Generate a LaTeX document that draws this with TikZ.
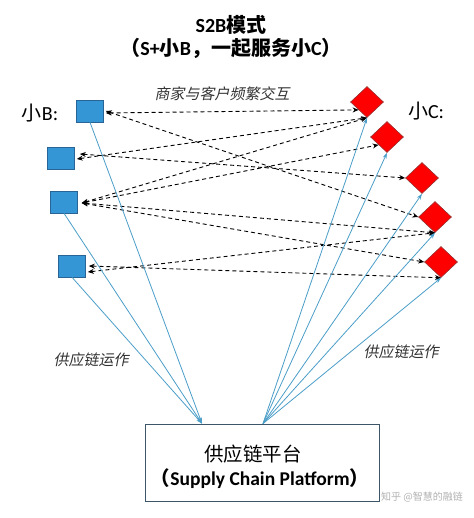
\documentclass[tikz,border=0pt]{standalone}
\usepackage{fontspec}
\newfontfamily\cjk{Noto Sans CJK SC}
\newfontfamily\cjkit{Noto Sans CJK SC}[FakeSlant=0.2]
\newfontfamily\lat{Carlito}
\usetikzlibrary{arrows.meta,shapes.geometric}
\definecolor{sqblue}{RGB}{52,150,212}
\definecolor{sqedge}{RGB}{40,100,150}
\definecolor{lnblue}{RGB}{75,158,200}
\definecolor{dmedge}{RGB}{150,50,50}
\definecolor{boxedge}{RGB}{60,85,105}
\begin{document}
\begin{tikzpicture}[x=1pt,y=-1pt,
  bsq/.style={draw=sqedge, fill=sqblue, line width=0.6pt, minimum width=27pt, minimum height=22pt, inner sep=0pt},
  rdm/.style={diamond, draw=dmedge, fill=red, line width=0.6pt, minimum width=33pt, minimum height=31pt, inner sep=0pt},
  dar/.style={black, line width=0.9pt, dash pattern=on 4pt off 3pt, {Stealth[length=6pt,width=5pt]}-{Stealth[length=6pt,width=5pt]}},
  bar/.style={lnblue, line width=0.8pt, -{Stealth[length=6pt,width=4pt]}},
  lab/.style={inner sep=0pt, text=black!80, font=\cjkit\fontsize{15}{18}\selectfont}
]
\useasboundingbox (0,0) rectangle (473,518);
\fill[white] (0,0) rectangle (473,518);

% title
\node[inner sep=0pt] (T1) at (231,25) {\fontsize{20}{24}\selectfont\bfseries{\lat S2B}{\cjk 模式}};
\node[inner sep=0pt] (T2) at (231,48) {\fontsize{20}{24}\selectfont\bfseries{\cjk （}{\lat S+}{\cjk 小}{\lat B}{\cjk ，一起服务小}{\lat C}{\cjk ）}};

% labels
\node[inner sep=0pt] (LB) at (40,113) {\fontsize{20}{24}\selectfont{\cjk 小}{\lat B:}};
\node[inner sep=0pt] (LC) at (426,111) {\fontsize{20}{24}\selectfont{\cjk 小}{\lat C:}};
\node[lab] (L1) at (222,94) {商家与客户频繁交互};
\node[lab] (L2) at (91,360) {供应链运作};
\node[lab] (L3) at (401,352) {供应链运作};

% small B
\node[bsq] (B1) at (90,111) {};
\node[bsq] (B2) at (61,158) {};
\node[bsq] (B3) at (64,202) {};
\node[bsq] (B4) at (72,266) {};

% small C
\node[rdm] (R1) at (367,102) {};
\node[rdm] (R2) at (387,137) {};
\node[rdm] (R3) at (422,178) {};
\node[rdm] (R4) at (435,217) {};
\node[rdm] (R5) at (441,262) {};

% platform
\node[draw=boxedge, line width=0.8pt, minimum width=234pt, minimum height=77pt, inner sep=0pt] (P) at (262,462.5) {};
\node[inner sep=0pt] (P1) at (253,454) {\cjk\fontsize{19.5}{22}\selectfont 供应链平台};
\node[inner sep=0pt] (P2) at (260,479) {\fontsize{19.5}{22}\selectfont\bfseries{\cjk （}{\lat Supply Chain Platform}{\cjk ）}};
\coordinate (Pl) at ([xshift=-60pt]P.north);
\coordinate (Pr) at ([xshift=1pt]P.north);

% watermark
\node[inner sep=0pt, text=black!30] (W) at (422,497) {\cjk\fontsize{10}{12}\selectfont 知乎 @智慧的融链};

% dashed interactions
\draw[dar] ([xshift=2pt,yshift=-2pt]B1.east) -- (R1.south west);
\draw[dar] ([xshift=2pt]B1.east) -- (R4.west);
\draw[dar] ([xshift=2pt,yshift=-1pt]B2.east) -- (R1.south);
\draw[dar] ([xshift=5pt,yshift=4pt]B2.east) -- (R3.west);
\draw[dar] ([xshift=4pt,yshift=-1pt]B3.east) -- (R1.south);
\draw[dar] ([xshift=4pt,yshift=-1pt]B3.east) -- (R2.south west);
\draw[dar] ([xshift=4pt,yshift=-1pt]B3.east) -- (R4.south);
\draw[dar] ([xshift=4pt,yshift=-1pt]B3.east) -- (R5.west);
\draw[dar] ([xshift=2pt,yshift=-6pt]B4.east) -- (R4.south);
\draw[dar] ([xshift=3pt]B4.east) -- (R5.south);

% supply chain operation
\draw[bar] (B1.south) -- (Pl);
\draw[bar] (B3.south) -- (Pl);
\draw[bar] (B4.south) -- (Pl);
\draw[bar] (Pr) -- (R1.south);
\draw[bar] (Pr) -- (R2.south);
\draw[bar] (Pr) -- (R3.south);
\draw[bar] (Pr) -- (R4.south);
\draw[bar] (Pr) -- (R5.south);
\end{tikzpicture}
\end{document}
